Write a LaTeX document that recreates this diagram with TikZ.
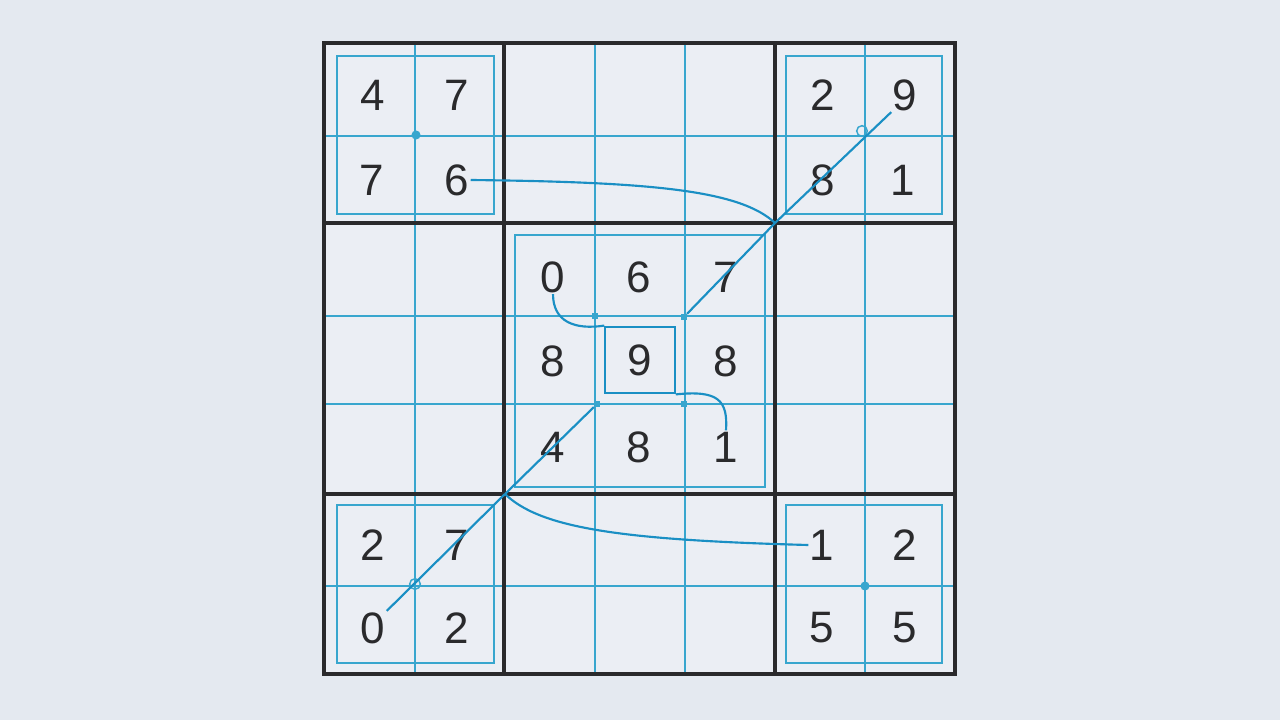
\documentclass[tikz,border=0pt]{standalone}
\usepackage{fontspec}
\setmainfont{Liberation Sans}

\definecolor{paper}{HTML}{E4E9F0}
\definecolor{ink}{HTML}{2A2A2C}
\definecolor{gridblue}{HTML}{38A6CE}
\definecolor{linkblue}{HTML}{1A8FC4}

\tikzset{every picture/.style={line width=0.75pt}}
\tikzset{
  digit/.style={inner sep=0.75pt, text=ink, font=\fontsize{33}{36}\selectfont},
  thickrule/.style={draw=ink, line width=2.6pt},
  thinrule/.style={draw=gridblue, line width=0.9pt},
  innerbox/.style={draw=gridblue, line width=0.9pt},
  link/.style={draw=linkblue, line width=1.6pt},
  pin/.style={fill=gridblue, inner sep=0pt, minimum size=4pt},
  knot/.style={draw=gridblue, fill=gridblue, circle, inner sep=0pt, minimum size=6pt},
  curl/.style={draw=gridblue, circle, inner sep=0pt, minimum size=8pt, line width=1.1pt}
}

\begin{document}
\begin{tikzpicture}[x=0.75pt,y=0.75pt,yscale=-1,xscale=1]
\useasboundingbox[fill=paper] (0,0) rectangle (1280,720);

%Shape: Rectangle [id:board]
\fill[paper!75!white] (324,43) rectangle (955,674);

%Straight Lines [id:thin grid]
\draw[thinrule] (415,43) -- (415,674) ;
\draw[thinrule] (595,43) -- (595,674) ;
\draw[thinrule] (685,43) -- (685,674) ;
\draw[thinrule] (865,43) -- (865,674) ;
\draw[thinrule] (324,136) -- (955,136) ;
\draw[thinrule] (324,316) -- (955,316) ;
\draw[thinrule] (324,404) -- (955,404) ;
\draw[thinrule] (324,586) -- (955,586) ;

%Shape: Rectangle [id:inner boxes]
\draw[innerbox] (337,56) rectangle (494,214) ;
\draw[innerbox] (786,56) rectangle (942,214) ;
\draw[innerbox] (337,505) rectangle (494,663) ;
\draw[innerbox] (786,505) rectangle (942,663) ;
\draw[innerbox] (515,235) rectangle (765,487) ;

%Straight Lines [id:thick grid]
\draw[thickrule] (324,43) rectangle (955,674) ;
\draw[thickrule] (504,43) -- (504,674) ;
\draw[thickrule] (775,43) -- (775,674) ;
\draw[thickrule] (324,223) -- (955,223) ;
\draw[thickrule] (324,494) -- (955,494) ;

% Corners
\coordinate (ctr) at (775,223);
\coordinate (cbl) at (505,494);

% Text Node
\draw (373,95) node (tl4) [digit] {4};
\draw (457,95) node (tl7) [digit] {7};
\draw (372,180) node (tl7b) [digit] {7};
\draw (457,180) node (tl6) [digit] {6};
% Text Node
\draw (823,95) node (tr2) [digit] {2};
\draw (905,95) node (tr9) [digit] {9};
\draw (823,180) node (tr8) [digit] {8};
\draw (903,180) node (tr1) [digit] {1};
% Text Node
\draw (553,277) node (c0) [digit] {0};
\draw (639,277) node (c6) [digit] {6};
\draw (726,277) node (c7) [digit] {7};
\draw (553,361) node (c8) [digit] {8};
\draw (553,447) node (c4) [digit] {4};
\draw (639,447) node (c8c) [digit] {8};
\draw (726,447) node (c1) [digit] {1};
\draw (726,361) node (c8b) [digit] {8};
% Text Node
\draw (640,360) node (box9) [digit, draw=linkblue, line width=1.6pt, minimum width=52, minimum height=50] {9};
% Text Node
\draw (373,545) node (bl2) [digit] {2};
\draw (457,545) node (bl7) [digit] {7};
\draw (373,628) node (bl0) [digit] {0};
\draw (457,628) node (bl2b) [digit] {2};
% Text Node
\draw (822,545) node (br1) [digit] {1};
\draw (905,545) node (br2) [digit] {2};
\draw (822,628) node (br5) [digit] {5};
\draw (905,628) node (br5b) [digit] {5};

% Pins
\draw (595,316) node (pa) [pin] {};
\draw (684,317) node (pb) [pin] {};
\draw (597,404) node (pc) [pin] {};
\draw (684,404) node (pd) [pin] {};
\draw (416,135) node (ka) [knot] {};
\draw (865,586) node (kb) [knot] {};
\draw (862,131) node (kc) [curl] {};
\draw (415,584) node (kd) [curl] {};

%Straight Lines [id:diagonal]
\draw[link] (cbl) -- (pc) ;
\draw[link] (pb) -- (ctr) ;
\draw[link] (ctr) -- (tr9.south west) ;
\draw[link] (cbl) -- (bl0.north east) ;
%Curve Lines [id:six]
\draw[link] (tl6.east) .. controls (650,182) and (740,190) .. (ctr) ;
%Curve Lines [id:one]
\draw[link] (cbl) .. controls (540,528) and (620,540) .. (br1.west) ;
%Curve Lines [id:zero]
\draw[link] (c0.south) .. controls (553,322) and (575,330) .. (box9.north west) ;
%Curve Lines [id:nine]
\draw[link] (box9.south east) .. controls (718,390) and (728,400) .. (c1.north) ;

\end{tikzpicture}
\end{document}
